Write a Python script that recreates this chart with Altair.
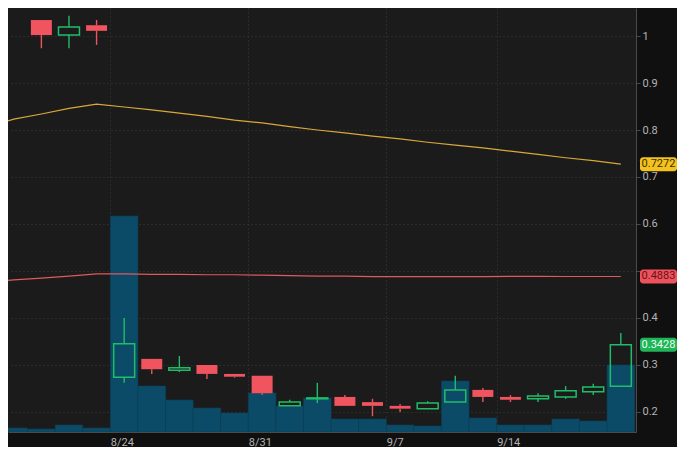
import altair as alt
import pandas as pd

# ---- data ----
dates = ["8/18", "8/19", "8/20", "8/21", "8/24", "8/25", "8/26", "8/27", "8/28",
         "8/31", "9/1", "9/2", "9/3", "9/4", "9/8", "9/9", "9/10", "9/11",
         "9/14", "9/15", "9/16", "9/17", "9/18"]
opens  = [None, 1.034, 1.002, 1.023, 0.274, 0.313, 0.289, 0.300, 0.281, 0.277, 0.213, 0.228,
          0.232, 0.221, 0.213, 0.207, 0.221, 0.247, 0.232, 0.228, 0.232, 0.243, 0.255]
closes = [None, 1.002, 1.019, 1.011, 0.345, 0.291, 0.294, 0.281, 0.275, 0.240, 0.221, 0.230,
          0.213, 0.213, 0.207, 0.219, 0.247, 0.232, 0.226, 0.234, 0.245, 0.253, 0.3428]
highs  = [None, 1.034, 1.043, 1.034, 0.400, 0.313, 0.319, 0.300, 0.281, 0.277, 0.226, 0.262,
          0.236, 0.228, 0.217, 0.223, 0.277, 0.251, 0.236, 0.240, 0.255, 0.260, 0.368]
lows   = [None, 0.974, 0.974, 0.981, 0.262, 0.281, 0.285, 0.270, 0.273, 0.236, 0.213, 0.219,
          0.213, 0.191, 0.200, 0.207, 0.221, 0.221, 0.221, 0.221, 0.228, 0.236, 0.255]
volumes = [0.8, 0.6, 1.4, 0.8, 43.2, 9.2, 6.4, 4.8, 3.8, 7.8, 5.2, 6.8, 2.6, 2.6,
           1.4, 1.2, 10.2, 2.8, 1.4, 1.4, 2.6, 2.2, 13.4]
# moving averages, first value is the day before 8/18 (8/17)
ma_dates = ["8/17"] + dates
ma_long = [0.806, 0.823, 0.834, 0.846, 0.855, 0.849, 0.843, 0.836, 0.829, 0.821, 0.815,
           0.807, 0.800, 0.794, 0.787, 0.781, 0.774, 0.768, 0.762, 0.755, 0.748, 0.741,
           0.735, 0.7272]
ma_short = [0.477, 0.481, 0.485, 0.489, 0.494, 0.494, 0.493, 0.493, 0.492, 0.492, 0.491,
            0.490, 0.489, 0.489, 0.488, 0.488, 0.488, 0.488, 0.488, 0.4885, 0.4885,
            0.4883, 0.4883, 0.4883]
week_starts = ["8/24", "8/31", "9/8", "9/14"]
week_labels = ["8/24", "8/31", "9/7", "9/14"]
price_ticks = [0.2, 0.3, 0.4, 0.5, 0.6, 0.7, 0.8, 0.9, 1.0]
badge_values = [0.7272, 0.4883, 0.3428]
badge_texts = ["0.7272", "0.4883", "0.3428"]

# ---- styling ----
BG_OUT = "#101010"
BG_PLOT = "#1b1b1c"
TEAL = "#0c4b67"
RED = "#f0545e"
GREEN = "#20bd68"
YELLOW = "#d8a83a"
MA_RED = "#de5a5c"
GRID = "#3c3c3c"
FONT = "Roboto"

candles = pd.DataFrame({
    "slot": list(range(len(dates))), "date": dates,
    "open": opens, "close": closes, "high": highs, "low": lows, "volume": volumes,
})
ma_df = pd.DataFrame({"slot": list(range(-1, len(dates))), "date": ma_dates,
                      "ma_long": ma_long, "ma_short": ma_short})
badges = pd.DataFrame({"v": badge_values, "t": badge_texts,
                       "kind": ["long", "short", "last"]})

tick_pos = [dates.index(d) - 0.5 for d in week_starts]
label_expr = " : ".join(
    f"datum.value == {p} ? '{l}'" for p, l in zip(tick_pos, week_labels)) + " : ''"

W, H = 628, 424
xscale = alt.Scale(domain=[-0.21, 22.55], nice=False, zero=False)
pscale = alt.Scale(domain=[0.1574, 1.0596], nice=False, zero=False)
vscale = alt.Scale(domain=[0, 84.8], nice=False)

x_axis = alt.Axis(values=tick_pos, labelExpr=label_expr, title=None, orient="bottom",
                  grid=True, gridColor=GRID, gridDash=[1, 3], gridWidth=1,
                  ticks=False, domainColor="#4a4a4a", labelAlign="left",
                  labelColor="#b4b4b4", labelFont=FONT, labelFontSize=11,
                  labelPadding=4, labelFlush=False)
y_axis = alt.Axis(values=price_ticks, orient="right", title=None,
                  labelExpr="datum.value == 0.5 ? '' : format(datum.value, '.1~f')",
                  grid=True, gridColor=GRID, gridDash=[1, 3], gridWidth=1,
                  tickColor="#4a4a4a", tickSize=4, domainColor="#4a4a4a",
                  labelColor="#b4b4b4", labelFont=FONT, labelFontSize=11,
                  labelPadding=2)


def X(field):
    return alt.X(field, scale=xscale, axis=x_axis)


def P(field):
    return alt.Y(field, scale=pscale, axis=y_axis)


base = alt.Chart(candles)

vol = base.transform_calculate(
    x0="datum.slot - 0.5", x1="datum.slot + 0.5", zero="0"
).mark_rect(color=TEAL, clip=True, stroke="#0a3f57", strokeWidth=0.6).encode(
    x=X("x0:Q"),
    x2="x1:Q",
    y=alt.Y("volume:Q", scale=vscale, axis=None),
    y2="zero:Q",
)

price_base = base.transform_filter("isValid(datum.open)").transform_calculate(
    top="max(datum.open, datum.close)",
    bot="min(datum.open, datum.close)",
    up="datum.close >= datum.open",
    b0="datum.slot - 0.38", b1="datum.slot + 0.38",
)

line_long = alt.Chart(ma_df).mark_line(color=YELLOW, strokeWidth=1.2, clip=True).encode(
    x=X("slot:Q"), y=P("ma_long:Q"))
line_short = alt.Chart(ma_df).mark_line(color=MA_RED, strokeWidth=1.2, clip=True).encode(
    x=X("slot:Q"), y=P("ma_short:Q"))

color_cond = alt.condition("datum.up", alt.value(GREEN), alt.value(RED))

wick_hi = price_base.mark_rule(strokeWidth=1.4).encode(
    x=X("slot:Q"), y=P("high:Q"), y2="top:Q", color=color_cond)
wick_lo = price_base.mark_rule(strokeWidth=1.4).encode(
    x=X("slot:Q"), y=P("bot:Q"), y2="low:Q", color=color_cond)

body_red = price_base.transform_filter("!datum.up").mark_rect(color=RED).encode(
    x=X("b0:Q"), x2="b1:Q", y=P("top:Q"), y2="bot:Q")
body_green = price_base.transform_filter("datum.up").mark_rect(
    fill="transparent", stroke=GREEN, strokeWidth=1.5).encode(
    x=X("b0:Q"), x2="b1:Q", y=P("top:Q"), y2="bot:Q")

bcolor = alt.Color("kind:N", scale=alt.Scale(domain=["long", "short", "last"],
                                             range=["#f4c21e", "#ee525c", "#1fb457"]),
                   legend=None)
tcolor = alt.Color("kind:N", scale=alt.Scale(domain=["long", "short", "last"],
                                             range=["#3b3000", "#6a1218", "#eafff0"]),
                   legend=None)
badge_rect = alt.Chart(badges).transform_calculate(
    y0="datum.v + 0.0149", y1="datum.v - 0.0149"
).mark_rect(cornerRadius=3).encode(
    x=alt.value(632), x2=alt.value(669),
    y=P("y0:Q"), y2="y1:Q",
    fill=bcolor,
)
badge_text = alt.Chart(badges).mark_text(
    font=FONT, fontSize=11, align="center", baseline="middle").encode(
    x=alt.value(650.5),
    y=P("v:Q"),
    text="t:N",
    color=tcolor,
)

price_layer = alt.layer(line_long, line_short, wick_hi, wick_lo, body_red, body_green,
                        badge_rect, badge_text).resolve_scale(color="independent")

chart = alt.layer(vol, price_layer).resolve_scale(y="independent", color="independent").properties(
    width=W, height=H, padding={"left": 0, "top": 0, "right": 0, "bottom": 0},
    background=BG_OUT,
).configure_view(fill=BG_PLOT, stroke=None)

chart.save("out.html", embed_options={"renderer": "svg", "actions": False})
